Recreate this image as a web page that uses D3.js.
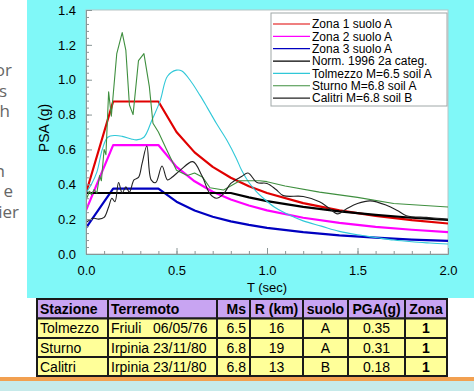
<!DOCTYPE html>
<html><head><meta charset="utf-8">
<script src="https://cdn.jsdelivr.net/npm/d3@7"></script>
<style>
body{margin:0;background:#fff;}
svg{display:block;font-family:Arial,"Liberation Sans",sans-serif;}
</style></head><body>
<svg id="c" width="474" height="391"></svg>
<script>
// ---------- data ----------
const designT   = [0,0.15,0.4,0.5,0.6,0.7,0.8,0.9,1.0,1.2,1.4,1.6,1.8,2.0];
const zona1A    = [0.35,0.875,0.875,0.70,0.583,0.50,0.4375,0.389,0.35,0.292,0.25,0.219,0.194,0.175];
const zona2A    = [0.25,0.625,0.625,0.50,0.417,0.357,0.3125,0.278,0.25,0.208,0.179,0.156,0.139,0.125];
const zona3A    = [0.15,0.375,0.375,0.30,0.25,0.214,0.1875,0.167,0.15,0.125,0.107,0.094,0.083,0.075];
const normT     = [0,0.8,0.9,1.0,1.2,1.4,1.6,1.8,2.0];
const norm1996  = [0.35,0.35,0.325,0.303,0.27,0.245,0.225,0.208,0.195];

const tolmezzoT = [0,0.03,0.06,0.09,0.12,0.16,0.2,0.25,0.28,0.32,0.365,0.41,0.45,0.5,0.53,0.58,0.63,0.67,0.72,0.78,0.83,0.86,0.9,0.94,0.98,1.04,1.1,1.2,1.3,1.4,1.5,1.6,1.7,1.8,1.9,2.0];
const tolmezzo  = [0.35,0.40,0.47,0.60,0.67,0.68,0.675,0.66,0.655,0.67,0.77,0.88,1.02,1.055,1.05,0.99,0.91,0.84,0.75,0.65,0.55,0.48,0.41,0.36,0.32,0.27,0.235,0.19,0.16,0.13,0.11,0.095,0.08,0.07,0.063,0.057];

const sturnoT   = [0,0.02,0.03,0.045,0.06,0.075,0.085,0.1,0.11,0.125,0.14,0.17,0.2,0.22,0.24,0.26,0.29,0.32,0.35,0.37,0.40,0.445,0.5,0.56,0.6,0.645,0.685,0.76,0.85,0.96,1.0,1.1,1.29,1.5,1.7,2.0];
const sturno    = [0.31,0.36,0.34,0.37,0.35,0.45,0.42,0.60,0.57,0.93,0.79,1.15,1.27,1.17,0.855,0.80,1.11,1.15,0.96,0.75,0.70,0.60,0.48,0.45,0.465,0.44,0.38,0.367,0.42,0.42,0.415,0.39,0.355,0.325,0.29,0.27];

const calitriT  = [0,0.02,0.044,0.07,0.1,0.125,0.143,0.16,0.18,0.2,0.22,0.24,0.265,0.29,0.31,0.336,0.36,0.385,0.42,0.45,0.475,0.52,0.59,0.64,0.685,0.72,0.76,0.8,0.86,0.895,0.945,1.0,1.05,1.09,1.2,1.29,1.34,1.39,1.44,1.5,1.57,1.66,1.72,1.77,1.88,1.94,2.0];
const calitri   = [0.18,0.195,0.205,0.2,0.21,0.27,0.32,0.30,0.41,0.35,0.385,0.355,0.425,0.44,0.52,0.62,0.425,0.41,0.505,0.425,0.44,0.48,0.53,0.45,0.345,0.32,0.345,0.405,0.445,0.465,0.41,0.405,0.37,0.335,0.33,0.30,0.265,0.23,0.26,0.29,0.305,0.28,0.25,0.22,0.21,0.205,0.2];

const legendLabels = ["Zona 1 suolo A","Zona 2 suolo A","Zona 3 suolo A","Norm. 1996 2a categ.","Tolmezzo M=6.5 soil A","Sturno M=6.8 soil A","Calitri M=6.8 soil B"];
const yTickValues = [0,0.2,0.4,0.6,0.8,1.0,1.2,1.4];
const xTickValues = [0,0.5,1.0,1.5,2.0];

const tableHeader = ["Stazione","Terremoto","Ms","R (km)","suolo","PGA(g)","Zona"];
const stazione  = ["Tolmezzo","Sturno","Calitri"];
const terremoto = ["Friuli   06/05/76","Irpinia 23/11/80","Irpinia 23/11/80"];
const msVal     = ["6.5","6.8","6.8"];
const rKm       = ["16","19","13"];
const suolo     = ["A","A","B"];
const pgaG      = ["0.35","0.31","0.18"];
const zona      = ["1","1","1"];

const sideText = ["or","s","h","n","e","ier"];

// ---------- drawing ----------
const svg = d3.select("#c");

// background slide fragments (cut off by the slide edge, as in the source)
const sideX = [12,7,10,5,13,19], sideY=[76,97,117,177,197,218];
svg.selectAll("text.side").data(sideText).join("text")
  .attr("x",(d,i)=>sideX[i]).attr("y",(d,i)=>sideY[i])
  .attr("text-anchor","end").attr("fill","#666")
  .style("font-family","'Open Sans',sans-serif").style("font-size","17px").text(d=>d);

// cyan panel
svg.append("rect").attr("x",27).attr("y",0).attr("width",447).attr("height",298).attr("fill","#80f8f8");
// bottom strips
svg.append("rect").attr("x",0).attr("y",377).attr("width",474).attr("height",4).attr("fill","#f2a050");
svg.append("rect").attr("x",0).attr("y",381).attr("width",474).attr("height",10).attr("fill","#c6eaea");

const x = d3.scaleLinear().domain([0,2]).range([86,448]);
const y = d3.scaleLinear().domain([0,1.4]).range([254,10]);

// plot area
svg.append("rect").attr("x",86).attr("y",10).attr("width",362).attr("height",244)
  .attr("fill","#fff").attr("stroke","#b8c4c4").attr("stroke-width",1);

svg.append("clipPath").attr("id","pc").append("rect").attr("x",86).attr("y",10).attr("width",362).attr("height",244);
const g = svg.append("g").attr("clip-path","url(#pc)");

function series(T,V,color,w,curve){
  const pts = T.map((t,i)=>[t,V[i]]);
  g.append("path").datum(pts)
   .attr("d",d3.line().x(d=>x(d[0])).y(d=>y(d[1])).curve(curve))
   .attr("fill","none").attr("stroke",color).attr("stroke-width",w).attr("stroke-linejoin","round");
}
const colors = ["#e00000","#ff00ff","#0000c0","#000000","#30c8d8","#3f8f3f","#222222"];
const widths = [2.2,2.2,2.2,2.2,1.1,1.1,1.1];
series(designT,zona1A,colors[0],widths[0],d3.curveLinear);
series(designT,zona2A,colors[1],widths[1],d3.curveLinear);
series(designT,zona3A,colors[2],widths[2],d3.curveLinear);
series(normT,norm1996,colors[3],widths[3],d3.curveLinear);
series(tolmezzoT,tolmezzo,colors[4],widths[4],d3.curveCatmullRom);
series(sturnoT,sturno,colors[5],widths[5],d3.curveLinear);
series(calitriT,calitri,colors[6],widths[6],d3.curveCatmullRom);

// axes
const fmt = d3.format(".1f");
const axX = svg.append("g").attr("transform","translate(0,254)")
  .call(d3.axisBottom(x).tickValues(xTickValues).tickFormat(fmt).tickSizeInner(-6).tickSizeOuter(0).tickPadding(12));
const axXm = svg.append("g").attr("transform","translate(0,254)")
  .call(d3.axisBottom(x).tickValues(d3.range(0,21).map(i=>i/10)).tickFormat("").tickSizeInner(-3).tickSizeOuter(0));
const axY = svg.append("g").attr("transform","translate(86,0)")
  .call(d3.axisLeft(y).tickValues(yTickValues).tickFormat(fmt).tickSizeInner(-6).tickSizeOuter(0).tickPadding(10));
const axYm = svg.append("g").attr("transform","translate(86,0)")
  .call(d3.axisLeft(y).tickValues(d3.range(0,36).map(i=>i*0.04)).tickFormat("").tickSizeInner(-3).tickSizeOuter(0));
[axX,axXm,axY,axYm].forEach(a=>{
  a.selectAll("path,line").attr("stroke","#8a9696");
  a.selectAll("text").attr("fill","#000").style("font-size","13px").style("font-family","Arial,'Liberation Sans',sans-serif");
});

svg.append("text").attr("x",267).attr("y",292).attr("text-anchor","middle")
  .style("font-size","13px").text("T (sec)");
svg.append("text").attr("transform","translate(48.5,128) rotate(-90)").attr("text-anchor","middle")
  .style("font-size","14px").text("PSA (g)");

// legend
svg.append("rect").attr("x",271).attr("y",13).attr("width",176).attr("height",93)
  .attr("fill","#fff").attr("stroke","#a0a8a8");
const lg = svg.append("g");
const legY = i => 24 + i*12.35;
lg.selectAll("line").data(legendLabels).join("line")
  .attr("x1",273).attr("x2",310).attr("y1",(d,i)=>legY(i)).attr("y2",(d,i)=>legY(i))
  .attr("stroke",(d,i)=>colors[i]).attr("stroke-width",1.2);
lg.selectAll("text").data(legendLabels).join("text")
  .attr("x",312).attr("y",(d,i)=>legY(i)).attr("dy","0.36em")
  .style("font-size","12px").text(d=>d);

// table
const colEdges = [37,108,217,250,303,348,405,447];
const rowEdges = [299,318.5,338,357,376];
const rows = [tableHeader].concat(stazione.map((s,i)=>[s,terremoto[i],msVal[i],rKm[i],suolo[i],pgaG[i],zona[i]]));
const align = ["start","start","end","middle","middle","middle","middle"];
const tg = svg.append("g");
rows.forEach((r,ri)=>{
  r.forEach((cell,ci)=>{
    const x0=colEdges[ci], x1=colEdges[ci+1], y0=rowEdges[ri], y1=rowEdges[ri+1];
    tg.append("rect").attr("x",x0).attr("y",y0).attr("width",x1-x0).attr("height",y1-y0)
      .attr("fill", ri===0 ? "#c8a4f2" : "#ffff99").attr("stroke","#1a1a1a").attr("stroke-width",2);
    const tx = align[ci]==="start" ? x0+3 : align[ci]==="end" ? x1-4 : (x0+x1)/2;
    tg.append("text").attr("x",tx).attr("y",(y0+y1)/2).attr("dy","0.36em")
      .attr("text-anchor",align[ci])
      .style("font-size","14px").style("white-space","pre")
      .style("font-weight", (ri===0 || ci===6) ? "bold" : "normal")
      .text(cell);
  });
});
</script>
</body></html>
